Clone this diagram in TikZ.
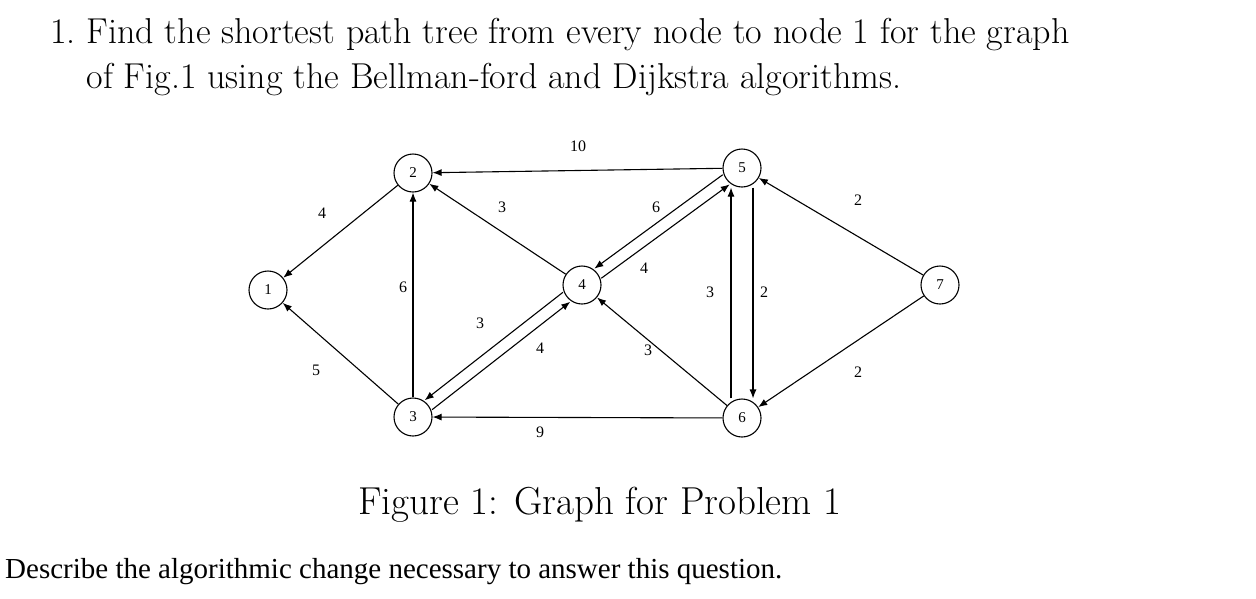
\documentclass[tikz,border=0pt]{standalone}
\usepackage{fontspec}
\usetikzlibrary{arrows.meta}
\newfontfamily\tms{Liberation Serif}
\begin{document}
\begin{tikzpicture}[x=1pt,y=-1pt,
  vtx/.style={circle,draw,line width=1.1pt,minimum size=38pt,inner sep=0pt,font=\tms\fontsize{15}{15}\selectfont},
  arr/.style={draw,line width=1.1pt,-{Latex[length=9pt,width=7pt]}},
  wt/.style={font=\tms\fontsize{16}{16}\selectfont}]
\useasboundingbox (0,0) rectangle (1256,598);
\node[anchor=west,font=\fontsize{36}{45}\selectfont,align=left,inner sep=0pt] (t) at (50,57) {1.\ Find the shortest path tree from every node to node 1 for the graph\\\phantom{1.\ }of Fig.1 using the Bellman-ford and Dijkstra algorithms.};
\node (v1) [vtx] at (268,290) {1};
\node (v2) [vtx] at (413,173) {2};
\node (v3) [vtx] at (413,417) {3};
\node (v4) [vtx] at (582,285) {4};
\node (v5) [vtx] at (742,168) {5};
\node (v6) [vtx] at (742,418) {6};
\node (v7) [vtx] at (940,285) {7};
\draw[arr] (v2) -- (v1);
\draw[arr] (v3) -- (v1);
\draw[arr] (v3) -- (v2);
\draw[arr] (v4) -- (v2);
\draw[arr] (v5) -- (v2);
\draw[arr] (v6) -- (v3);
\draw[arr] (v6) -- (v4);
\draw[arr] (v7) -- (v5);
\draw[arr] (v7) -- (v6);
\draw[arr,transform canvas={xshift=-3.5pt,yshift=4.8pt}] (v5) -- (v4);
\draw[arr,transform canvas={xshift=3.5pt,yshift=-4.8pt}] (v4) -- (v5);
\draw[arr,transform canvas={xshift=-3.7pt,yshift=4.7pt}] (v4) -- (v3);
\draw[arr,transform canvas={xshift=3.7pt,yshift=-4.7pt}] (v3) -- (v4);
\draw[arr,transform canvas={xshift=-11pt}] (v6) -- (v5);
\draw[arr,transform canvas={xshift=11pt}] (v5) -- (v6);
\node[wt] (w1) at (578,146) {10};
\node[wt] (w2) at (322,213) {4};
\node[wt] (w3) at (316,370) {5};
\node[wt] (w4) at (403,287) {6};
\node[wt] (w5) at (502,207) {3};
\node[wt] (w6) at (656,207) {6};
\node[wt] (w7) at (644,268) {4};
\node[wt] (w8) at (480,323) {3};
\node[wt] (w9) at (540,348) {4};
\node[wt] (w10) at (648,350) {3};
\node[wt] (w11) at (710,292) {3};
\node[wt] (w12) at (764,292) {2};
\node[wt] (w13) at (540,432) {9};
\node[wt] (w14) at (858,200) {2};
\node[wt] (w15) at (858,372) {2};
\node[font=\fontsize{39}{39}\selectfont] (cap) at (600,505) {Figure 1: Graph for Problem 1};
\node[anchor=west,font=\tms\fontsize{29}{29}\selectfont,inner sep=0pt] (d) at (5,572) {Describe the algorithmic change necessary to answer this question.};
\end{tikzpicture}
\end{document}
